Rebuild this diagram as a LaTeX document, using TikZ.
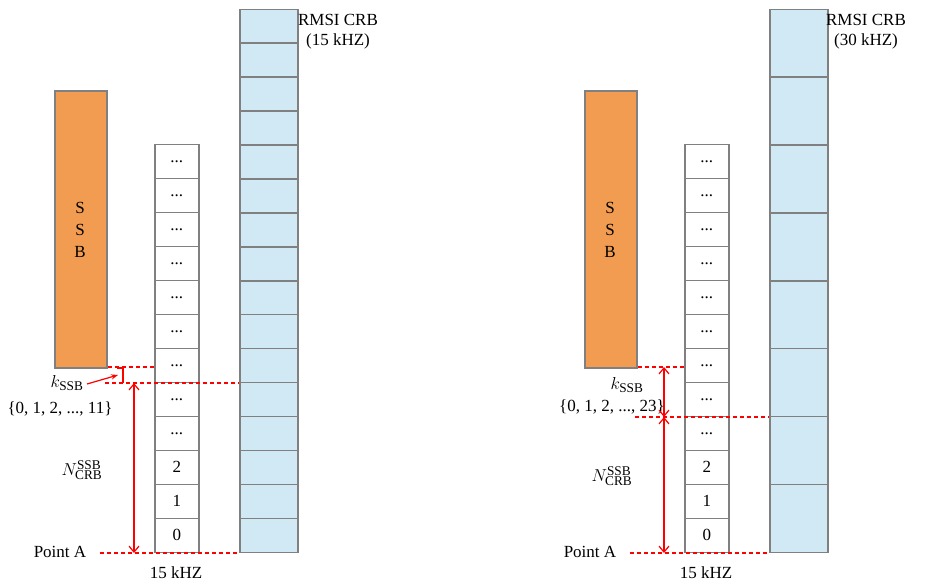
\documentclass[tikz,border=0pt]{standalone}
\usepackage{fontspec}
\setmainfont{Liberation Serif}
\usetikzlibrary{arrows.meta}
\definecolor{ssbor}{HTML}{F29C52}
\definecolor{crbbl}{HTML}{D0E9F4}
\definecolor{lnc}{HTML}{808080}
\begin{document}
\begin{tikzpicture}[x=1pt,y=-1pt,font=\fontsize{17}{20}\selectfont,
  cellw/.style={draw=lnc,line width=1.5pt,fill=white},
  cellb/.style={draw=lnc,line width=1.5pt,fill=crbbl},
  ssbbox/.style={draw=lnc,line width=1.5pt,fill=ssbor},
  dsh/.style={draw=red,dash pattern=on 4pt off 3pt,line width=1.1pt},
  dim/.style={draw=red,line width=1.2pt,{Straight Barb[length=6pt,width=10pt]}-{Straight Barb[length=6pt,width=10pt]}}]
\useasboundingbox (0,0) rectangle (927,587);
\foreach \ox/\n/\kl in {0/16/383, 530/8/417}{
  \begin{scope}[xshift=\ox]
  \node[ssbbox,minimum width=52pt,minimum height=277pt,anchor=north west,inner sep=0] (ssb) at (54,90) {};
  \node[align=center,inner sep=0] (ssbt) at (80,230) {S\\[2pt]S\\[2pt]B};
  \foreach \i in {1,...,\n}{
    \pgfmathsetmacro\h{543/\n}
    \node[cellb,minimum width=58pt,minimum height=\h pt,anchor=south west,inner sep=0] (b\i) at (239,{553-(\i-1)*\h}) {};
  }
  \foreach \i in {1,...,12}{
    \node[cellw,minimum width=44pt,minimum height=34pt,anchor=south west,inner sep=0] (c\i) at (154,{553-(\i-1)*34}) {\ifnum\i<4 \the\numexpr\i-1\relax\else ...\fi};
  }
  \node (f) at (176,573) {15 kHZ};
  \node (pa) at (60,552) {Point A};
  \coordinate (pa1) at (100,553); \coordinate (pa2) at (239,553);
  \draw[dsh] (pa1) -- (pa2);
  \coordinate (s1) at (108,367); \coordinate (s2) at (154,367);
  \draw[dsh] (s1) -- (s2);
  \coordinate (k1) at (105,\kl); \coordinate (k2) at (239,\kl);
  \draw[dsh] (k1) -- (k2);
  \end{scope}}
\node[align=center] (rm1) at (338,32) {RMSI CRB\\(15 kHZ)};
\node[align=center] (rm2) at (866,32) {RMSI CRB\\(30 kHZ)};
\node (kl) at (67,383) {\fontsize{19}{20}\selectfont$k_{\mathrm{SSB}}$};
\node (rl) at (60,409) {\{0, 1, 2, ..., 11\}};
\node (nl) at (82,470) {\fontsize{19}{20}\selectfont$N^{\mathrm{SSB}}_{\mathrm{CRB}}$};
\coordinate (bt) at (117,368); \coordinate (bb) at (123,383); \coordinate (bt2) at (123,368);
\draw[draw=red,line width=1.2pt] (bt) -- (bt2) -- (bb);
\coordinate (ka0) at (87,384);
\coordinate (ka) at (118,375);
\draw[draw=red,line width=1.2pt,-{Stealth[length=7pt]}] (ka0) -- (ka);
\coordinate (n1) at (134,383); \coordinate (n2) at (134,553);
\draw[dim] (n1) -- (n2);
\node (kr) at (627,385) {\fontsize{19}{20}\selectfont$k_{\mathrm{SSB}}$};
\node (rr) at (612,407) {\{0, 1, 2, ..., 23\}};
\node (nr) at (612,476) {\fontsize{19}{20}\selectfont$N^{\mathrm{SSB}}_{\mathrm{CRB}}$};
\coordinate (m1) at (664,367); \coordinate (m2) at (664,417); \coordinate (m3) at (664,553);
\draw[dim] (m1) -- (m2);
\draw[dim] (m2) -- (m3);
\end{tikzpicture}
\end{document}
